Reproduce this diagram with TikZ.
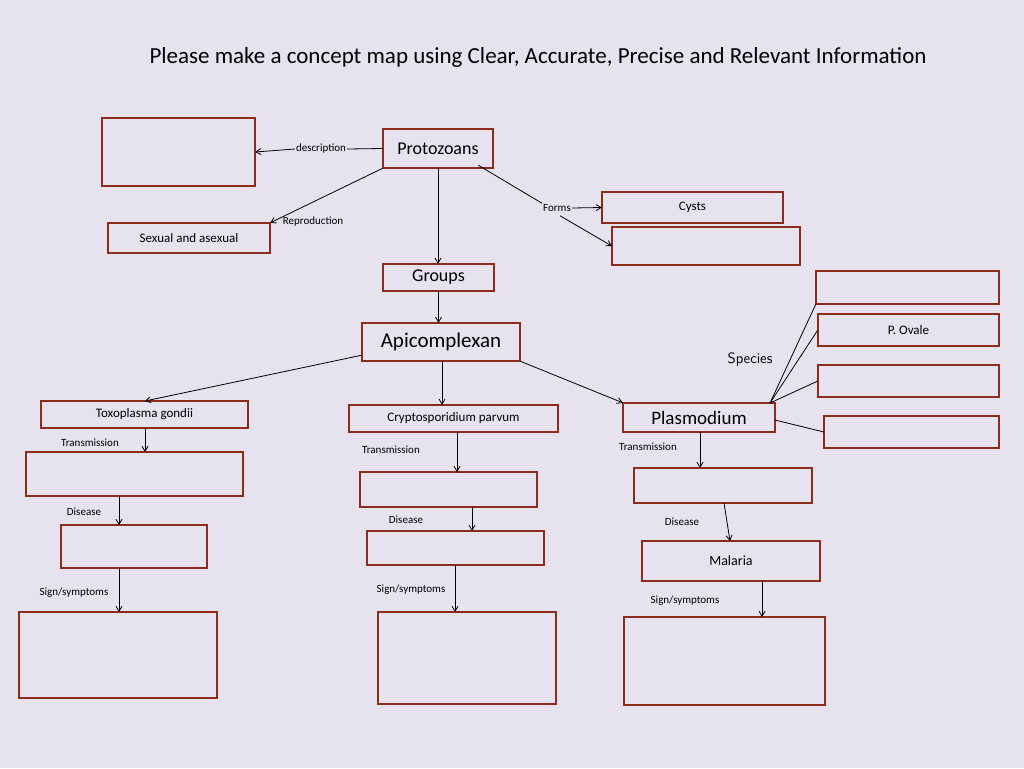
\documentclass[tikz,border=0pt]{standalone}
\usepackage{fontspec}
\setmainfont{Carlito}
\usetikzlibrary{arrows.meta}
\definecolor{bg}{HTML}{E6E2EE}
\definecolor{bx}{HTML}{8E2C1C}
\begin{document}
\begin{tikzpicture}[x=1pt,y=-1pt,
  box/.style={draw=bx,line width=1.6pt},
  lab/.style={font=\fontsize{11}{12}\selectfont,inner sep=1pt},
  ar/.style={-{Straight Barb[length=5pt,width=6pt]},thick},
  ln/.style={thick}]
\fill[bg] (0,0) rectangle (1024,768);
\useasboundingbox (0,0) rectangle (1024,768);
\node[font=\fontsize{23}{26}\selectfont] (title) at (538,57) {Please make a concept map using Clear, Accurate, Precise and Relevant Information};
\newcommand\bx[5]{\draw[box] (#2,#3) rectangle (#4,#5); \path (#2,#3) -- (#4,#5) node[midway,inner sep=0,minimum width=#4pt-#2pt,minimum height=#5pt-#3pt] (#1) {};}
\bx{desc}{102}{118}{255}{186}
\bx{proto}{383}{129}{493}{168}
\bx{sex}{108}{223}{270}{253}
\bx{cyst}{602}{192}{783}{223}
\bx{form2}{612}{227}{800}{265}
\bx{groups}{383}{264}{494}{291}
\bx{api}{362}{323}{520}{361}
\bx{sp1}{816}{271}{999}{304}
\bx{sp2}{818}{314}{999}{346}
\bx{sp3}{818}{365}{999}{397}
\bx{sp4}{824}{416}{999}{448}
\bx{toxo}{41}{401}{248}{428}
\bx{crypto}{349}{405}{558}{432}
\bx{plas}{623}{403}{775}{432}
\bx{t1}{26}{452}{243}{496}
\bx{t2}{360}{472}{537}{507}
\bx{t3}{634}{468}{812}{503}
\bx{d1}{61}{525}{207}{568}
\bx{d2}{367}{531}{544}{565}
\bx{d3}{642}{541}{820}{581}
\bx{s1}{19}{612}{217}{698}
\bx{s2}{378}{612}{556}{704}
\bx{s3}{624}{617}{825}{705}
\node[font=\fontsize{18}{20}\selectfont] at (proto) {Protozoans};
\node[font=\fontsize{13}{15}\selectfont] at (sex) {Sexual and asexual};
\node[font=\fontsize{13}{15}\selectfont] at (cyst) {Cysts};
\node[font=\fontsize{18}{20}\selectfont] at (groups) {Groups};
\node[font=\fontsize{21}{24}\selectfont] at (api) {Apicomplexan};
\node[font=\fontsize{13}{15}\selectfont] at (sp2) {P. Ovale};
\node[font=\fontsize{13}{15}\selectfont] at (toxo) {Toxoplasma gondii};
\node[font=\fontsize{13}{15}\selectfont] at (crypto) {Cryptosporidium parvum};
\node[font=\fontsize{19}{21}\selectfont] at (plas) {Plasmodium};
\node[font=\fontsize{14}{16}\selectfont] at (d3) {Malaria};
% labels
\node[lab] (ldesc) at (321,149) {description};
\node[lab] (lrep) at (313,222) {Reproduction};
\node[lab] (lform) at (557,208) {Forms};
\node[lab,font=\fontsize{15}{17}\selectfont\sffamily] (lsp) at (750,360) {Species};
\node[lab] (tr1) at (90,443) {Transmission};
\node[lab] (tr2) at (391,450) {Transmission};
\node[lab] (tr3) at (648,447) {Transmission};
\node[lab] (di1) at (84,512) {Disease};
\node[lab] (di2) at (406,520) {Disease};
\node[lab] (di3) at (682,522) {Disease};
\node[lab] (sy1) at (74,593) {Sign/symptoms};
\node[lab] (sy2) at (411,590) {Sign/symptoms};
\node[lab] (sy3) at (685,601) {Sign/symptoms};
% connectors
\draw[ln] (proto.west) -- (ldesc.east);
\draw[ar] (ldesc.west) -- (desc.east);
\draw[ar] (proto.south west) -- (sex.north east);
\draw[ln] (proto.south east) ++(-15,-3) -- (lform.north west);
\draw[ar] (lform.east) -- (cyst.west);
\draw[ar] (lform.south) ++(3,3) -- (form2.west);
\draw[ar] (proto.south) -- (groups.north -| proto.south);
\draw[ar] (groups.south) -- (api.north -| groups.south);
\draw[ar] (api.south west) ++(0,-6) -- (145,401);
\draw[ar] (442,361) -- (crypto.north -| 442,0);
\draw[ar] (api.south east) -- (plas.north west);
\draw[ln] (770,403) -- (sp1.south west);
\draw[ln] (770,403) -- (sp2.west);
\draw[ln] (770,403) -- (sp3.west);
\draw[ln] (775,420) -- (sp4.west);
\draw[ar] (145,428) -- (145,452);
\draw[ar] (457,432) -- (457,472);
\draw[ar] (700,432) -- (700,468);
\draw[ar] (119,496) -- (119,525);
\draw[ar] (472,507) -- (472,531);
\draw[ar] (724,503) -- (730,541);
\draw[ar] (119,568) -- (119,612);
\draw[ar] (455,565) -- (455,612);
\draw[ar] (762,581) -- (762,617);
\end{tikzpicture}
\end{document}
